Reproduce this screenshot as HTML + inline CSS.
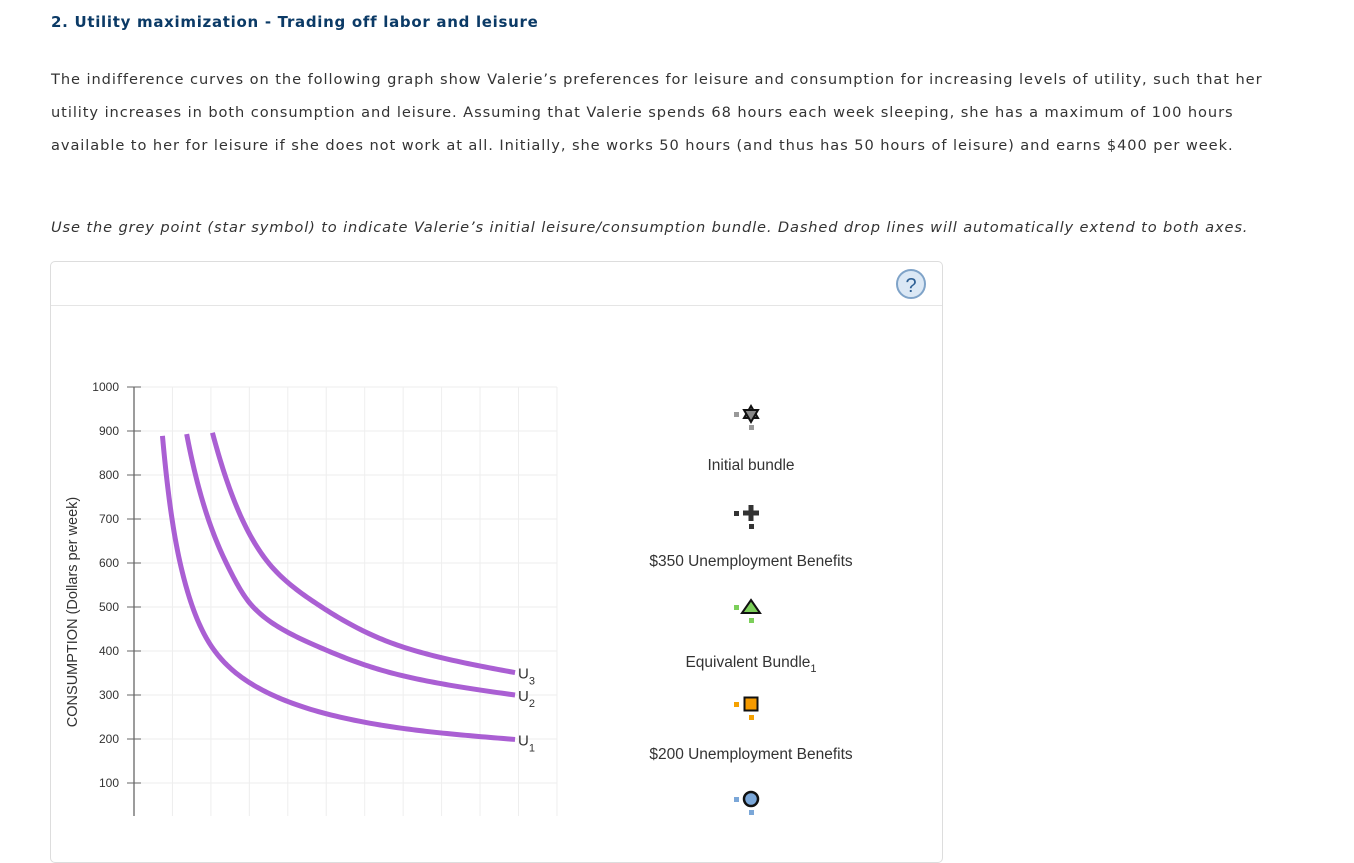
<!DOCTYPE html>
<html><head><meta charset="utf-8">
<style>
body{margin:0;width:1354px;height:816px;overflow:hidden;background:#fff;font-family:"DejaVu Sans","Liberation Sans",sans-serif;color:#333;position:relative}
.t{position:absolute;white-space:nowrap}
#title{left:51px;top:13px;font-size:15px;font-weight:bold;color:#0b3a66;letter-spacing:0.7px}
.p{left:51px;font-size:14.6px;color:#333;letter-spacing:0.93px}
#card{position:absolute;left:50px;top:261px;width:891px;height:600px;border:1px solid #ddd;border-radius:5px}
#hdr{position:absolute;left:0;top:43px;width:891px;border-top:1px solid #e5e5e5}
svg{position:absolute;left:0;top:0}
</style></head><body>
<div id="title" class="t">2. Utility maximization - Trading off labor and leisure</div>
<div class="t p" style="top:71px">The indifference curves on the following graph show Valerie’s preferences for leisure and consumption for increasing levels of utility, such that her</div>
<div class="t p" style="top:104px">utility increases in both consumption and leisure. Assuming that Valerie spends 68 hours each week sleeping, she has a maximum of 100 hours</div>
<div class="t p" style="top:137px">available to her for leisure if she does not work at all. Initially, she works 50 hours (and thus has 50 hours of leisure) and earns $400 per week.</div>
<div class="t p" style="top:219px;font-style:italic;letter-spacing:0.87px">Use the grey point (star symbol) to indicate Valerie’s initial leisure/consumption bundle. Dashed drop lines will automatically extend to both axes.</div>
<div id="card"><div id="hdr"></div></div>
<svg id="chart" width="1354" height="816" font-family="Liberation Sans, Arial, sans-serif"></svg>
<script>
const yTicks=[100,200,300,400,500,600,700,800,900,1000];
const xGrid=[0,10,20,30,40,50,60,70,80,90,100,110];
const u1X=[7.4,12,21,36,70,99.1];
const u1Y=[889,600,400,300,224,199];
const u2X=[13.7,24,31,50,69.3,99.1];
const u2Y=[893,600,500,402,345,300];
const u3X=[20.4,35,48.8,69.3,99.1];
const u3Y=[896,600,500,411,351];
const curveLabels=["1","2","3"];
const legendLabels=["Initial bundle","$350 Unemployment Benefits","Equivalent Bundle","$200 Unemployment Benefits"];
const NS="http://www.w3.org/2000/svg";
const svg=document.getElementById('chart');
const X=v=>134+v*3.845, Y=v=>827-v*0.44;
function mk(t,a,p){const e=document.createElementNS(NS,t);for(const k in a)e.setAttribute(k,a[k]);(p||svg).appendChild(e);return e;}
xGrid.forEach(v=>{if(v>0){const l=mk('line',{x1:X(v),x2:X(v),y1:Y(1000),y2:816,stroke:'#eee'});

}});
yTicks.forEach(v=>{const l=mk('line',{x1:X(0),x2:X(110),y1:Y(v),y2:Y(v),stroke:'#eee'});


const tk=mk('line',{x1:X(0)-7,x2:X(0)+7,y1:Y(v),y2:Y(v),stroke:'#666'});


const tx=mk('text',{x:119,y:Y(v)+4,'text-anchor':'end','font-size':12,fill:'#333'});tx.textContent=v;

});
const ax=mk('line',{x1:X(0),x2:X(0),y1:Y(1000),y2:816,stroke:'#666','stroke-width':1.3});


const yt=mk('text',{x:0,y:0,'font-size':14.5,fill:'#333','text-anchor':'middle',transform:'translate(77,612) rotate(-90)'});
yt.textContent='CONSUMPTION (Dollars per week)';


// monotone cubic interpolation in log-log space
function path(xs0,ys0){const xs=xs0.map(Math.log),ys=ys0.map(Math.log),n=xs.length,d=[],m=[];
for(let i=0;i<n-1;i++)d.push((ys[i+1]-ys[i])/(xs[i+1]-xs[i]));
m[0]=d[0];m[n-1]=d[n-2];
for(let i=1;i<n-1;i++){if(d[i-1]*d[i]<=0)m[i]=0;else{const w1=2*(xs[i+1]-xs[i])+(xs[i]-xs[i-1]),w2=(xs[i+1]-xs[i])+2*(xs[i]-xs[i-1]);m[i]=(w1+w2)/(w1/d[i-1]+w2/d[i]);}}
let s='M'+X(xs0[0])+','+Y(ys0[0]);
for(let i=0;i<n-1;i++){const h=xs[i+1]-xs[i];
for(let k=1;k<=30;k++){const t=k/30,t2=t*t,t3=t2*t;
const v=(2*t3-3*t2+1)*ys[i]+(t3-2*t2+t)*h*m[i]+(-2*t3+3*t2)*ys[i+1]+(t3-t2)*h*m[i+1];
s+=' L'+X(Math.exp(xs[i]+t*h)).toFixed(2)+','+Y(Math.exp(v)).toFixed(2);}}
return s;}
[[u1X,u1Y],[u2X,u2Y],[u3X,u3Y]].forEach((c,i)=>{
const pth=mk('path',{d:path(c[0],c[1]),fill:'none',stroke:'#aa5fd3','stroke-width':5,'stroke-linejoin':'round'});


const lx=X(c[0][c[0].length-1])+3, ly=Y(c[1][c[1].length-1])+6;
const t=mk('text',{x:lx,y:ly,'font-size':15,fill:'#333'});t.textContent='U';
const s=mk('tspan',{dy:6,'font-size':11},t);s.textContent=curveLabels[i];

});
const cx=751, my=[414,513,607,704,799], ly=[470,566,667,759];
const cols=['#999','#333','#7ccf5a','#f5a100','#7ba7d8'];
my.forEach((y,i)=>{const g=mk('g',{});


mk('rect',{x:cx-17,y:y-2,width:5,height:5,fill:cols[i]},g);
mk('rect',{x:cx-2,y:y+11,width:5,height:5,fill:cols[i]},g);
if(i==0){mk('polygon',{points:`${cx},${y-8} ${cx+7},${y+4} ${cx-7},${y+4}`,fill:'#888',stroke:'#111','stroke-width':2},g);
mk('polygon',{points:`${cx},${y+8} ${cx+7},${y-4} ${cx-7},${y-4}`,fill:'#888',stroke:'#111','stroke-width':2},g);}
if(i==1){mk('rect',{x:cx-8,y:y-2.5,width:16,height:5,fill:'#333'},g);mk('rect',{x:cx-2.5,y:y-8,width:5,height:16,fill:'#333'},g);}
if(i==2){mk('polygon',{points:`${cx},${y-7} ${cx+9},${y+6} ${cx-9},${y+6}`,fill:'#7ccf5a',stroke:'#111','stroke-width':2},g);}
if(i==3){mk('rect',{x:cx-6.5,y:y-6.5,width:13,height:13,fill:'#f59a00',stroke:'#111','stroke-width':2},g);}
if(i==4){mk('circle',{cx:cx,cy:y,r:7,fill:'#7ba7d8',stroke:'#111','stroke-width':2.5},g);}
if(i<4){const t=mk('text',{x:cx,y:ly[i],'font-size':15.5,fill:'#333','text-anchor':'middle'});t.textContent=legendLabels[i];
if(i==2){const s=mk('tspan',{dy:5,'font-size':11},t);s.textContent='1';}

}});
const h=mk('g',{});


mk('circle',{cx:911,cy:284,r:14,fill:'#dbe8f5',stroke:'#7fa3c8','stroke-width':2},h);
const q=mk('text',{x:911,y:292,'font-size':20,'text-anchor':'middle',fill:'#2d5f93'},h);q.textContent='?';
</script>
</body></html>
